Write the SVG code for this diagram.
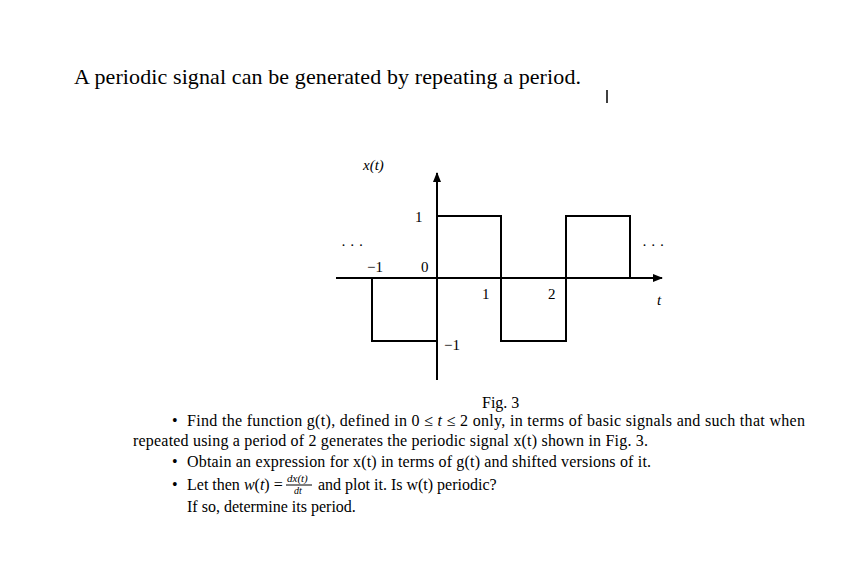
<svg xmlns="http://www.w3.org/2000/svg" width="855" height="570" viewBox="0 0 855 570">
<style>
.t{font-family:"Liberation Serif",serif;font-size:16px;fill:#000}
.m{font-family:"Liberation Serif",serif;font-size:15px;fill:#000}
.i{font-style:italic}
.ax{stroke:#000;stroke-width:2;fill:none}
</style>
<defs><marker id="ar" markerWidth="10" markerHeight="8" refX="9" refY="4" orient="auto" markerUnits="userSpaceOnUse"><path d="M0,0 L10,4 L0,8 Z" fill="#000"/></marker></defs>
<rect width="855" height="570" fill="#fff"/>
<text x="74" y="84" class="t" style="font-size:22px" textLength="507">A periodic signal can be generated by repeating a period.</text>
<line x1="607" y1="90" x2="607" y2="103" stroke="#000" stroke-width="1.5"/>
<g id="connectors">
<line class="ax" x1="336" y1="278" x2="662" y2="278" marker-end="url(#ar)"/>
<line class="ax" x1="437" y1="380" x2="437" y2="173" marker-end="url(#ar)"/>
</g>
<g id="signal"><polyline class="ax" points="372,278 372,341 437,341 437,216 501,216 501,341 566,341 566,216 630,216 630,278"/></g>
<g id="labels">
<text x="363" y="170" class="m i">x(t)</text>
<text x="415" y="222" class="m">1</text>
<text x="341" y="250" class="m">· · ·</text>
<text x="642" y="250" class="m">· · ·</text>
<text x="367" y="272" class="m">−1</text>
<text x="421" y="272" class="m">0</text>
<text x="482" y="299" class="m">1</text>
<text x="548" y="299" class="m">2</text>
<text x="657" y="305" class="m i">t</text>
<text x="444" y="350" class="m">−1</text>
</g>
<g id="text">
<text x="482" y="408" class="t">Fig. 3</text>
<text x="172" y="426" class="t">•</text>
<text x="187" y="426" class="t" textLength="618">Find the function g(t), defined in 0 ≤ <tspan class="i">t</tspan> ≤ 2 only, in terms of basic signals and such that when</text>
<text x="133" y="446" class="t" textLength="515">repeated using a period of 2 generates the periodic signal x(t) shown in Fig. 3.</text>
<text x="172" y="467" class="t">•</text>
<text x="187" y="467" class="t" textLength="464">Obtain an expression for x(t) in terms of g(t) and shifted versions of it.</text>
<text x="172" y="490" class="t">•</text>
<text x="187" y="490" class="t">Let then <tspan class="i">w</tspan>(<tspan class="i">t</tspan>) =</text>
<text x="287" y="482" class="t i" style="font-size:11px">dx(t)</text>
<line x1="286" y1="485" x2="312" y2="485" stroke="#000" stroke-width="1"/>
<text x="294" y="494" class="t i" style="font-size:10px">dt</text>
<text x="318" y="490" class="t">and plot it. Is w(t) periodic?</text>
<text x="187" y="512" class="t">If so, determine its period.</text>
</g>
</svg>
